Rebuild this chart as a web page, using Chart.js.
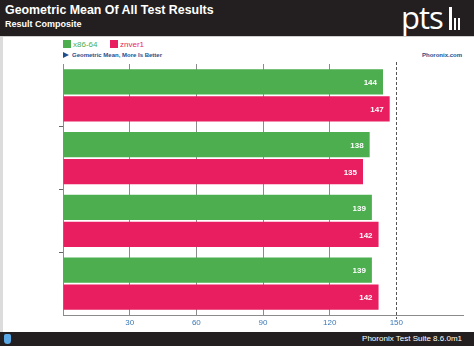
<!DOCTYPE html>
<html>
<head>
<meta charset="utf-8">
<script src="https://cdn.jsdelivr.net/npm/chart.js@4"></script>
<style>
  html, body { margin: 0; padding: 0; }
  body { width: 474px; height: 346px; position: relative; overflow: hidden; background: #fff; font-family: "Liberation Sans", Arial, sans-serif; }
  #header { position: absolute; left: 0; top: 0; width: 474px; height: 36px; background: #231f20; border-bottom: 1px solid #cfcfcf; }
  #title { position: absolute; left: 5px; top: 3px; color: #fff; font-weight: bold; font-size: 12.4px; }
  #subtitle { position: absolute; left: 5px; top: 19px; color: #fff; font-weight: bold; font-size: 9px; }
  #logo { position: absolute; left: 401px; top: -4px; color: #fff; font-family: "Open Sans", sans-serif; font-weight: 400; font-size: 31px; letter-spacing: -1px; }
  .lbar { position: absolute; background: #fff; width: 2px; }
  #side { position: absolute; left: 0; top: 37px; width: 3px; height: 295px; background: #dcdcdc; }
  #footer { position: absolute; left: 0; top: 332px; width: 474px; height: 14px; background: #231f20; }
  #footer span { position: absolute; right: 12px; top: 2px; color: #fff; font-size: 8px; }
  #icon { position: absolute; left: 4px; top: 2px; width: 7px; height: 10px; background: #5aa9e6; border-radius: 2px 2px 4px 4px; }
  .item { position: absolute; top: 40px; font-size: 8px; white-space: nowrap; }
  .item i { display: inline-block; width: 8px; height: 8px; vertical-align: -1px; margin-right: 2px; }
  #note { position: absolute; left: 63px; top: 52px; font-size: 6px; font-weight: bold; color: #1f4e8c; white-space: nowrap; }
  #note b { display: inline-block; width: 0; height: 0; border-left: 6px solid #1f4e8c; border-top: 3px solid transparent; border-bottom: 3px solid transparent; vertical-align: -1px; margin-right: 3px; }
  #site { position: absolute; right: 12px; top: 52px; font-size: 6px; font-weight: bold; color: #1f4e8c; }
  #wrap { position: absolute; left: 0; top: 36px; width: 474px; height: 296px; }
</style>
</head>
<body>
<div id="header">
  <div id="title">Geometric Mean Of All Test Results</div>
  <div id="subtitle">Result Composite</div>
  <div id="logo">pts</div>
  <div class="lbar" style="left:449px;top:7px;height:23px;width:3px"></div>
  <div class="lbar" style="left:454px;top:18px;height:12px"></div>
  <div class="lbar" style="left:458px;top:18px;height:12px"></div>
</div>
<div id="side"></div>
<div id="legend"></div>
<div id="note"><b></b>Geometric Mean, More Is Better</div>
<div id="site">Phoronix.com</div>
<div id="wrap"><canvas id="chart" width="474" height="296"></canvas></div>
<div id="footer"><div id="icon"></div><span>Phoronix Test Suite 8.6.0m1</span></div>

<script>
// four result groups, no category captions
const groups = ['', '', '', ''];
const seriesNames = ['x86-64', 'znver1'];
const x86Values = [144, 138, 139, 139];
const znverValues = [147, 135, 142, 142];
const axisTicks = [30, 60, 90, 120, 150];

const GREEN = '#4cae4f';
const RED = '#e91e60';

// legend row, each name in its own colour
const legendEl = document.getElementById('legend');
[[seriesNames[0], GREEN, 63], [seriesNames[1], RED, 110]].forEach(([name, color, left]) => {
  const item = document.createElement('div');
  item.className = 'item';
  item.style.left = left + 'px';
  item.style.color = color;
  item.innerHTML = `<i style="background:${color}"></i>${name}`;
  legendEl.appendChild(item);
});

// value captions inside the bar ends plus the dashed marker at 150
const barValues = {
  id: 'barValues',
  afterDatasetsDraw(chart) {
    const { ctx } = chart;
    ctx.save();
    ctx.font = 'bold 8px "Liberation Sans", Arial, sans-serif';
    ctx.fillStyle = '#ffffff';
    ctx.textAlign = 'right';
    ctx.textBaseline = 'middle';
    chart.data.datasets.forEach((ds, i) => {
      chart.getDatasetMeta(i).data.forEach((bar, j) => {
        ctx.fillText(String(ds.data[j]), bar.x - 6, bar.y + 1);
      });
    });
    const x = Math.round(chart.scales.x.getPixelForValue(150)) + 0.5;
    ctx.strokeStyle = '#555';
    ctx.lineWidth = 1;
    ctx.setLineDash([3, 2]);
    ctx.beginPath();
    ctx.moveTo(x, chart.chartArea.top - 2);
    ctx.lineTo(x, chart.chartArea.bottom + 4);
    ctx.stroke();
    ctx.restore();
  }
};

new Chart(document.getElementById('chart'), {
  type: 'bar',
  data: {
    labels: groups,
    datasets: [
      { label: seriesNames[0], data: x86Values, backgroundColor: GREEN },
      { label: seriesNames[1], data: znverValues, backgroundColor: RED }
    ]
  },
  options: {
    indexAxis: 'y',
    responsive: false,
    animation: false,
    categoryPercentage: 0.86,
    barPercentage: 0.93,
    layout: { padding: { left: 0, right: 11, top: 28, bottom: 0 } },
    plugins: { legend: { display: false }, tooltip: { enabled: false } },
    scales: {
      x: {
        min: 0,
        max: 180,
        afterBuildTicks: s => { s.ticks = [0, ...axisTicks, 180].map(v => ({ value: v })); },
        afterFit: s => { s.height = 17; },
        ticks: {
          color: '#3b78b5',
          font: { size: 8, family: '"Liberation Sans", Arial, sans-serif' },
          padding: 3,
          callback: v => (axisTicks.includes(v) ? String(v) : '')
        },
        grid: {
          drawTicks: false,
          color: ctx => (ctx.tick && ctx.tick.value > 0 && ctx.tick.value < 150 ? '#8c8c8c' : 'rgba(0,0,0,0)')
        },
        border: { color: '#8c8c8c' }
      },
      y: {
        afterFit: s => { s.width = 63; },
        ticks: { display: false },
        grid: {
          offset: true,
          drawOnChartArea: false,
          tickLength: 4,
          color: ctx => (ctx.index > 0 && ctx.index < groups.length ? '#666' : 'rgba(0,0,0,0)')
        },
        border: { color: '#8c8c8c' }
      }
    }
  },
  plugins: [barValues]
});
</script>
</body>
</html>
